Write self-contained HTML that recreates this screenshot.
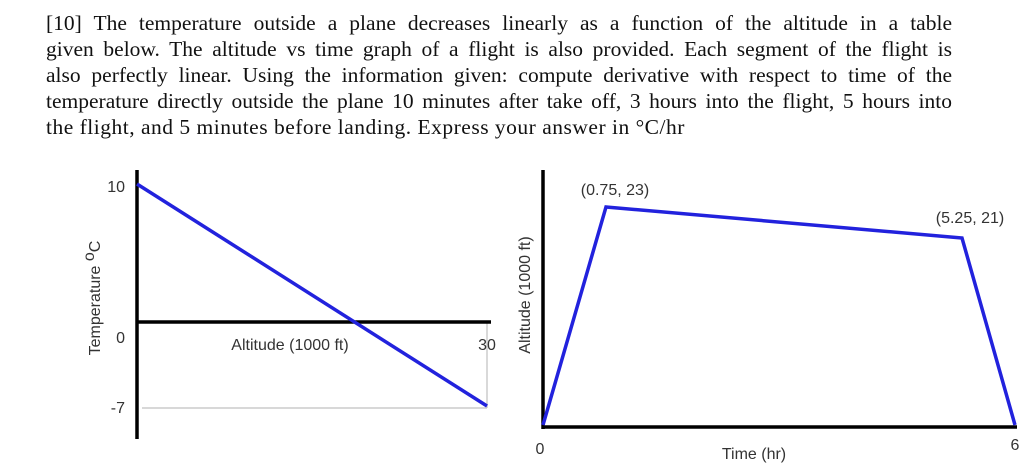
<!DOCTYPE html>
<html><head><meta charset="utf-8"><style>
body{margin:0;width:1024px;height:469px;background:#fff;overflow:hidden;position:relative}
.t{position:absolute;left:46px;width:906px;font-family:"Liberation Serif",serif;font-size:21.5px;line-height:26px;color:#111}
.t div{text-align:justify;text-align-last:justify;white-space:nowrap}
.t div.l{text-align-last:left;letter-spacing:0.5px}
svg{position:absolute;left:0;top:0}
</style></head><body>
<div class="t" style="top:10px">
<div>[10] The temperature outside a plane decreases linearly as a function of the altitude in a table</div>
<div>given below. The altitude vs time graph of a flight is also provided. Each segment of the flight is</div>
<div>also perfectly linear. Using the information given: compute derivative with respect to time of the</div>
<div>temperature directly outside the plane 10 minutes after take off, 3 hours into the flight, 5 hours into</div>
<div class="l">the flight, and 5 minutes before landing. Express your answer in °C/hr</div>
</div>
<svg width="1024" height="469" font-family="Liberation Sans, sans-serif" font-size="16" fill="#333">
<line x1="142" y1="408" x2="487" y2="408" stroke="#ccc" stroke-width="1.5"/>
<line x1="487" y1="322" x2="487" y2="408" stroke="#ccc" stroke-width="1.5"/>
<line x1="137" y1="170" x2="137" y2="439" stroke="#000" stroke-width="3.5"/>
<line x1="137" y1="322" x2="491" y2="322" stroke="#000" stroke-width="3.5"/>
<line x1="137" y1="184" x2="487" y2="406" stroke="#2222dd" stroke-width="3.5"/>
<text x="125" y="192" text-anchor="end">10</text>
<text x="125" y="343" text-anchor="end">0</text>
<text x="125" y="413" text-anchor="end">-7</text>
<text x="487" y="350" text-anchor="middle">30</text>
<text x="290" y="350" text-anchor="middle">Altitude (1000 ft)</text>
<text transform="translate(100,298) rotate(-90)" text-anchor="middle">Temperature <tspan dy="-6">o</tspan><tspan dy="6">C</tspan></text>
<line x1="543" y1="170" x2="543" y2="429" stroke="#000" stroke-width="3.5"/>
<line x1="543" y1="427" x2="1017" y2="427" stroke="#000" stroke-width="3.5"/>
<polyline points="543,425 606,207 962,238 1015,425" fill="none" stroke="#2222dd" stroke-width="3.5"/>
<text x="615" y="195" text-anchor="middle">(0.75, 23)</text>
<text x="970" y="223" text-anchor="middle">(5.25, 21)</text>
<text x="540" y="454" text-anchor="middle">0</text>
<text x="1015" y="450" text-anchor="middle">6</text>
<text x="754" y="459" text-anchor="middle">Time (hr)</text>
<text transform="translate(530,295) rotate(-90)" text-anchor="middle">Altitude (1000 ft)</text>
</svg>
</body></html>
